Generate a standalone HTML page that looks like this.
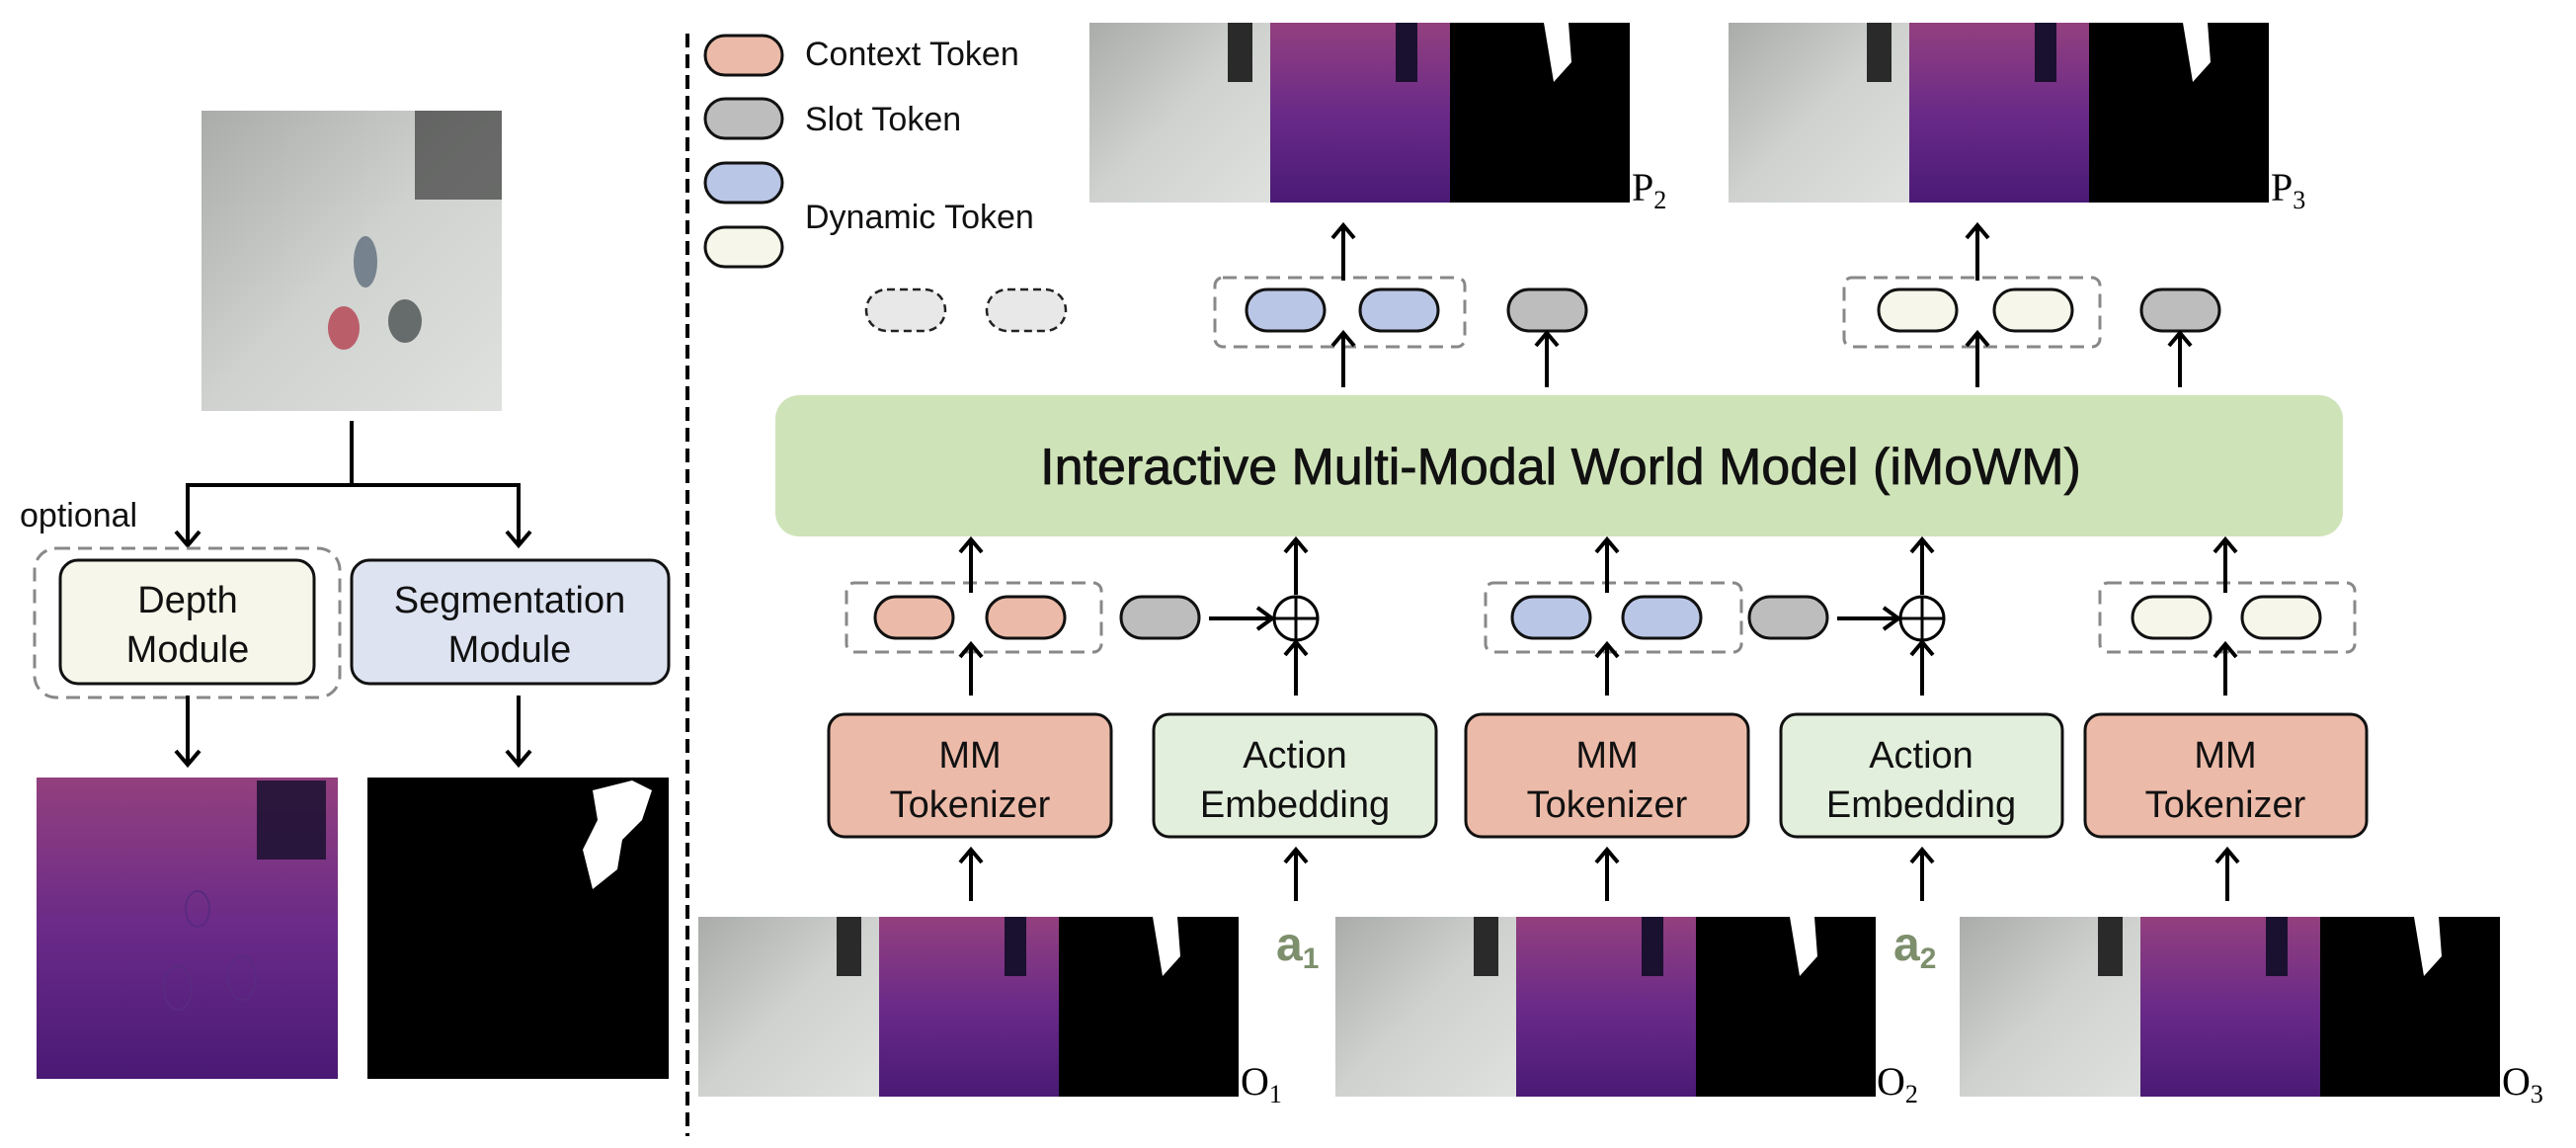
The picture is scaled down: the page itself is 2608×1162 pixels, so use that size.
<!DOCTYPE html>
<html><head><meta charset="utf-8"><style>
html,body{margin:0;padding:0;background:#fff;}
svg{display:block;}
text{font-family:"Liberation Sans",sans-serif;}
</style></head><body>
<svg width="2608" height="1162" viewBox="0 0 2608 1162" xmlns="http://www.w3.org/2000/svg">
<defs>
<linearGradient id="dep" x1="0" y1="0" x2="0" y2="1"><stop offset="0" stop-color="#93407e"/><stop offset="0.5" stop-color="#6a2a88"/><stop offset="1" stop-color="#4a1a75"/></linearGradient>
<linearGradient id="rgb" x1="0" y1="0" x2="1" y2="1"><stop offset="0" stop-color="#a9aca9"/><stop offset="0.5" stop-color="#cfd2cf"/><stop offset="1" stop-color="#dfe1de"/></linearGradient>
<g id="strip">
<rect x="0" y="0" width="183" height="182" fill="url(#rgb)"/>
<rect x="183" y="0" width="182" height="182" fill="url(#dep)"/>
<rect x="365" y="0" width="182" height="182" fill="#000"/>
<path d="M460 0 L485 0 L488 40 L470 60 L465 30 Z" fill="#fff"/>
<rect x="140" y="0" width="25" height="60" fill="#2a2a2a"/>
<rect x="310" y="0" width="22" height="60" fill="#1a1030"/>
</g>
</defs>
<style>
.a{stroke:#000;stroke-width:4;fill:none;}
.bx{stroke:#111;stroke-width:3;}
.dg{fill:none;stroke:#888;stroke-width:3;stroke-dasharray:14 8;}
.bt{font-size:38px;text-anchor:middle;fill:#111;}
</style>

<line x1="696" y1="34" x2="696" y2="1150" stroke="#000" stroke-width="4" stroke-dasharray="14 7"/>

<rect x="204" y="112" width="304" height="304" fill="url(#rgb)"/>
<rect x="420" y="112" width="88" height="90" fill="#222" opacity="0.6"/>
<ellipse cx="348" cy="332" rx="16" ry="22" fill="#b44050" opacity="0.8"/>
<ellipse cx="410" cy="325" rx="17" ry="22" fill="#4a5050" opacity="0.8"/>
<ellipse cx="370" cy="265" rx="12" ry="26" fill="#506070" opacity="0.7"/>
<polyline class="a" points="356,426 356,491"/>
<polyline class="a" points="190,552 190,491 525,491 525,552"/>
<polyline class="a" points="178,538 190,552 202,538"/>
<polyline class="a" points="513,538 525,552 537,538"/>
<text x="20" y="533" font-size="34" fill="#111">optional</text>
<rect x="35" y="555" width="309" height="151" rx="22" class="dg"/>
<rect x="61" y="567" width="257" height="125" rx="18" fill="#f6f7ea" class="bx"/>
<text class="bt" x="190" y="620">Depth</text>
<text class="bt" x="190" y="670">Module</text>
<rect x="356" y="567" width="321" height="125" rx="18" fill="#dde3f1" class="bx"/>
<text class="bt" x="516" y="620">Segmentation</text>
<text class="bt" x="516" y="670">Module</text>
<polyline class="a" points="190,704 190,774"/><polyline class="a" points="178,760 190,774 202,760"/>
<polyline class="a" points="525,704 525,774"/><polyline class="a" points="513,760 525,774 537,760"/>
<rect x="37" y="787" width="305" height="305" fill="url(#dep)"/>
<rect x="260" y="790" width="70" height="80" fill="#1a1030" opacity="0.85"/>
<ellipse cx="200" cy="920" rx="12" ry="18" fill="none" stroke="#5a2a80" stroke-width="2"/>
<ellipse cx="180" cy="1000" rx="14" ry="22" fill="none" stroke="#5a2a80" stroke-width="2"/>
<ellipse cx="245" cy="990" rx="14" ry="22" fill="none" stroke="#5a2a80" stroke-width="2"/>
<rect x="372" y="787" width="305" height="305" fill="#000"/>
<path d="M600 800 L640 790 L660 800 L650 830 L630 850 L625 880 L600 900 L590 860 L605 830 Z" fill="#fff"/>

<rect x="714" y="36" width="78" height="40" rx="20" fill="#ecbaa8" stroke="#111" stroke-width="3"/>
<rect x="714" y="100" width="78" height="40" rx="20" fill="#bdbdbd" stroke="#111" stroke-width="3"/>
<rect x="714" y="165" width="78" height="40" rx="20" fill="#bac6e6" stroke="#111" stroke-width="3"/>
<rect x="714" y="230" width="78" height="40" rx="20" fill="#f6f7ea" stroke="#111" stroke-width="3"/>
<text x="815" y="66" font-size="34" fill="#111">Context Token</text>
<text x="815" y="132" font-size="34" fill="#111">Slot Token</text>
<text x="815" y="231" font-size="34" fill="#111">Dynamic Token</text>

<use href="#strip" x="1103" y="23"/>
<use href="#strip" x="1750" y="23"/>
<text x="1652" y="203" font-size="40" style="font-family:'Liberation Serif',serif">P<tspan font-size="26" dy="8">2</tspan></text>
<text x="2299" y="203" font-size="40" style="font-family:'Liberation Serif',serif">P<tspan font-size="26" dy="8">3</tspan></text>

<rect x="877" y="293" width="80" height="42" rx="21" fill="#e8e8e8" stroke="#222" stroke-width="2.5" stroke-dasharray="8 5"/>
<rect x="999" y="293" width="80" height="42" rx="21" fill="#e8e8e8" stroke="#222" stroke-width="2.5" stroke-dasharray="8 5"/>
<rect x="1230" y="281" width="253" height="70" rx="8" class="dg"/>
<rect x="1262" y="293" width="79" height="42" rx="21" fill="#bac6e6" stroke="#111" stroke-width="3"/>
<rect x="1377" y="293" width="79" height="42" rx="21" fill="#bac6e6" stroke="#111" stroke-width="3"/>
<rect x="1527" y="293" width="79" height="42" rx="21" fill="#bdbdbd" stroke="#111" stroke-width="3"/>
<rect x="1867" y="281" width="259" height="70" rx="8" class="dg"/>
<rect x="1902" y="293" width="79" height="42" rx="21" fill="#f6f7ea" stroke="#111" stroke-width="3"/>
<rect x="2019" y="293" width="79" height="42" rx="21" fill="#f6f7ea" stroke="#111" stroke-width="3"/>
<rect x="2168" y="293" width="79" height="42" rx="21" fill="#bdbdbd" stroke="#111" stroke-width="3"/>

<g class="a">
<polyline points="1360,284 1360,228"/><polyline points="1349,241 1360,228 1371,241"/>
<polyline points="2002,284 2002,228"/><polyline points="1991,241 2002,228 2013,241"/>
<polyline points="1360,392 1360,337"/><polyline points="1349,350 1360,337 1371,350"/>
<polyline points="1566,392 1566,337"/><polyline points="1555,350 1566,337 1577,350"/>
<polyline points="2002,392 2002,337"/><polyline points="1991,350 2002,337 2013,350"/>
<polyline points="2207,392 2207,337"/><polyline points="2196,350 2207,337 2218,350"/>
</g>

<rect x="785" y="400" width="1587" height="143" rx="24" fill="#cfe3b8"/>
<text x="1580" y="490" font-size="52" text-anchor="middle" fill="#111" stroke="#111" stroke-width="0.8">Interactive Multi-Modal  World  Model (iMoWM)</text>

<rect x="857" y="590" width="258" height="70" rx="8" class="dg"/>
<rect x="886" y="604" width="79" height="42" rx="21" fill="#ecbaa8" stroke="#111" stroke-width="3"/>
<rect x="999" y="604" width="79" height="42" rx="21" fill="#ecbaa8" stroke="#111" stroke-width="3"/>
<rect x="1135" y="604" width="79" height="42" rx="21" fill="#bdbdbd" stroke="#111" stroke-width="3"/>
<rect x="1504" y="590" width="259" height="70" rx="8" class="dg"/>
<rect x="1531" y="604" width="79" height="42" rx="21" fill="#bac6e6" stroke="#111" stroke-width="3"/>
<rect x="1643" y="604" width="79" height="42" rx="21" fill="#bac6e6" stroke="#111" stroke-width="3"/>
<rect x="1771" y="604" width="79" height="42" rx="21" fill="#bdbdbd" stroke="#111" stroke-width="3"/>
<rect x="2126" y="590" width="258" height="70" rx="8" class="dg"/>
<rect x="2159" y="604" width="79" height="42" rx="21" fill="#f6f7ea" stroke="#111" stroke-width="3"/>
<rect x="2270" y="604" width="79" height="42" rx="21" fill="#f6f7ea" stroke="#111" stroke-width="3"/>

<g stroke="#000" stroke-width="3" fill="#fff">
<circle cx="1312" cy="626" r="22"/><line x1="1290" y1="626" x2="1334" y2="626"/><line x1="1312" y1="604" x2="1312" y2="648"/>
<circle cx="1946" cy="626" r="22"/><line x1="1924" y1="626" x2="1968" y2="626"/><line x1="1946" y1="604" x2="1946" y2="648"/>
</g>

<g class="a">
<polyline points="1224,626 1286,626"/><polyline points="1273,615 1288,626 1273,637"/>
<polyline points="1860,626 1920,626"/><polyline points="1907,615 1922,626 1907,637"/>
<polyline points="983,600 983,546"/><polyline points="972,559 983,546 994,559"/>
<polyline points="1312,602 1312,546"/><polyline points="1301,559 1312,546 1323,559"/>
<polyline points="1627,600 1627,546"/><polyline points="1616,559 1627,546 1638,559"/>
<polyline points="1946,602 1946,546"/><polyline points="1935,559 1946,546 1957,559"/>
<polyline points="2253,600 2253,546"/><polyline points="2242,559 2253,546 2264,559"/>
<polyline points="983,704 983,652"/><polyline points="972,665 983,652 994,665"/>
<polyline points="1312,704 1312,650"/><polyline points="1301,663 1312,650 1323,663"/>
<polyline points="1627,704 1627,652"/><polyline points="1616,665 1627,652 1638,665"/>
<polyline points="1946,704 1946,650"/><polyline points="1935,663 1946,650 1957,663"/>
<polyline points="2253,704 2253,652"/><polyline points="2242,665 2253,652 2264,665"/>
<polyline points="983,912 983,860"/><polyline points="972,873 983,860 994,873"/>
<polyline points="1312,912 1312,860"/><polyline points="1301,873 1312,860 1323,873"/>
<polyline points="1627,912 1627,860"/><polyline points="1616,873 1627,860 1638,873"/>
<polyline points="1946,912 1946,860"/><polyline points="1935,873 1946,860 1957,873"/>
<polyline points="2255,912 2255,860"/><polyline points="2244,873 2255,860 2266,873"/>
</g>

<rect x="839" y="723" width="286" height="124" rx="16" fill="#ecbaa8" class="bx"/>
<text class="bt" x="982" y="777">MM</text><text class="bt" x="982" y="827">Tokenizer</text>
<rect x="1168" y="723" width="286" height="124" rx="16" fill="#e2efdc" class="bx"/>
<text class="bt" x="1311" y="777">Action</text><text class="bt" x="1311" y="827">Embedding</text>
<rect x="1484" y="723" width="286" height="124" rx="16" fill="#ecbaa8" class="bx"/>
<text class="bt" x="1627" y="777">MM</text><text class="bt" x="1627" y="827">Tokenizer</text>
<rect x="1803" y="723" width="285" height="124" rx="16" fill="#e2efdc" class="bx"/>
<text class="bt" x="1945" y="777">Action</text><text class="bt" x="1945" y="827">Embedding</text>
<rect x="2111" y="723" width="285" height="124" rx="16" fill="#ecbaa8" class="bx"/>
<text class="bt" x="2253" y="777">MM</text><text class="bt" x="2253" y="827">Tokenizer</text>

<use href="#strip" x="707" y="928"/>
<use href="#strip" x="1352" y="928"/>
<use href="#strip" x="1984" y="928"/>
<text x="1256" y="1108" font-size="40" style="font-family:'Liberation Serif',serif">O<tspan font-size="26" dy="8">1</tspan></text>
<text x="1900" y="1108" font-size="40" style="font-family:'Liberation Serif',serif">O<tspan font-size="26" dy="8">2</tspan></text>
<text x="2533" y="1108" font-size="40" style="font-family:'Liberation Serif',serif">O<tspan font-size="26" dy="8">3</tspan></text>
<text x="1292" y="972" font-size="48" font-weight="bold" fill="#7d8f6c">a<tspan font-size="30" dy="8">1</tspan></text>
<text x="1917" y="972" font-size="48" font-weight="bold" fill="#7d8f6c">a<tspan font-size="30" dy="8">2</tspan></text>
</svg>
</body></html>
